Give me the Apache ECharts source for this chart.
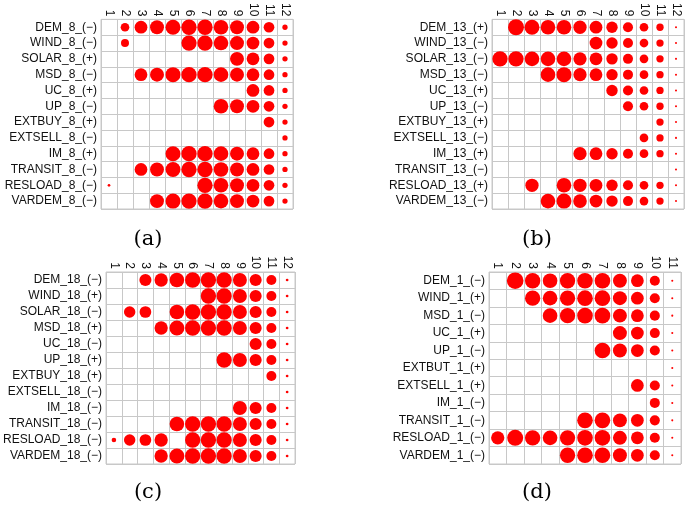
<!DOCTYPE html>
<html>
<head>
<meta charset="utf-8">
<script src="https://cdn.jsdelivr.net/npm/echarts@6/dist/echarts.min.js"></script>
<style>
html,body{margin:0;padding:0;background:#fff;}
#main{width:685px;height:506px;}
</style>
</head>
<body>
<div id="main"></div>
<script>
// column headers
var cols12 = ['1','2','3','4','5','6','7','8','9','10','11','12'];
var cols11 = ['1','2','3','4','5','6','7','8','9','10','11'];

// (a) hour 8
var rowsA = ['DEM_8_(\u2212)','WIND_8_(\u2212)','SOLAR_8_(+)','MSD_8_(\u2212)','UC_8_(+)','UP_8_(\u2212)',
  'EXTBUY_8_(+)','EXTSELL_8_(\u2212)','IM_8_(+)','TRANSIT_8_(\u2212)','RESLOAD_8_(\u2212)','VARDEM_8_(\u2212)'];
var valsA = [
  [0,.51,.75,.82,.88,.9,.9,.86,.82,.75,.63,.31],
  [0,.47,0,0,0,.9,.9,.86,.82,.75,.63,.31],
  [0,0,0,0,0,0,0,0,.82,.75,.63,.31],
  [0,0,.75,.82,.88,.9,.9,.86,.82,.75,.63,.31],
  [0,0,0,0,0,0,0,0,0,.75,.63,.31],
  [0,0,0,0,0,0,0,.86,.82,.75,.63,.31],
  [0,0,0,0,0,0,0,0,0,0,.63,.31],
  [0,0,0,0,0,0,0,0,0,0,0,.31],
  [0,0,0,0,.88,.9,.9,.86,.82,.75,.63,.31],
  [0,0,.75,.82,.88,.9,.9,.86,.82,.75,.63,.31],
  [.16,0,0,0,0,0,.9,.86,.82,.75,.63,.31],
  [0,0,0,.82,.88,.9,.9,.86,.82,.75,.63,.31]
];

// (b) hour 13
var rowsB = ['DEM_13_(+)','WIND_13_(\u2212)','SOLAR_13_(\u2212)','MSD_13_(\u2212)','UC_13_(+)','UP_13_(\u2212)',
  'EXTBUY_13_(+)','EXTSELL_13_(\u2212)','IM_13_(+)','TRANSIT_13_(\u2212)','RESLOAD_13_(+)','VARDEM_13_(\u2212)'];
var valsB = [
  [0,.94,.88,.86,.86,.78,.75,.67,.59,.51,.43,.12],
  [0,0,0,0,0,0,.75,.67,.59,.51,.43,.12],
  [.9,.9,.86,.86,.86,.78,.75,.67,.59,.51,.43,.12],
  [0,0,0,.86,.88,.78,.75,.67,.59,.51,.43,.12],
  [0,0,0,0,0,0,0,.67,.59,.51,.43,.12],
  [0,0,0,0,0,0,0,0,.59,.51,.43,.12],
  [0,0,0,0,0,0,0,0,0,0,.43,.12],
  [0,0,0,0,0,0,0,0,0,.51,.43,.12],
  [0,0,0,0,0,.78,.75,.67,.59,.51,.43,.12],
  [0,0,0,0,0,0,0,0,0,0,0,.12],
  [0,0,.78,0,.86,.78,.75,.67,.59,.51,.43,.12],
  [0,0,0,.86,.88,.8,.75,.67,.59,.51,.43,.12]
];

// (c) hour 18
var rowsC = ['DEM_18_(\u2212)','WIND_18_(+)','SOLAR_18_(\u2212)','MSD_18_(+)','UC_18_(\u2212)','UP_18_(+)',
  'EXTBUY_18_(+)','EXTSELL_18_(\u2212)','IM_18_(\u2212)','TRANSIT_18_(\u2212)','RESLOAD_18_(\u2212)','VARDEM_18_(\u2212)'];
var valsC = [
  [0,0,.71,.78,.86,.9,.9,.9,.82,.71,.59,.16],
  [0,0,0,0,0,0,.9,.9,.82,.71,.59,.16],
  [0,.67,.69,0,.86,.9,.9,.9,.82,.71,.59,.16],
  [0,0,0,.78,.88,.9,.9,.9,.82,.71,.59,.16],
  [0,0,0,0,0,0,0,0,0,.71,.59,.16],
  [0,0,0,0,0,0,0,.9,.82,.71,.59,.16],
  [0,0,0,0,0,0,0,0,0,0,.59,.16],
  [0,0,0,0,0,0,0,0,0,0,0,.16],
  [0,0,0,0,0,0,0,0,.82,.71,.59,.16],
  [0,0,0,0,.86,.9,.9,.9,.82,.71,.59,.16],
  [.27,.67,.69,.78,0,.9,.9,.9,.82,.71,.59,.16],
  [0,0,0,.78,.88,.9,.9,.9,.82,.71,.59,.16]
];

// (d) hour 1
var rowsD = ['DEM_1_(\u2212)','WIND_1_(+)','MSD_1_(\u2212)','UC_1_(+)','UP_1_(\u2212)','EXTBUT_1_(+)',
  'EXTSELL_1_(+)','IM_1_(\u2212)','TRANSIT_1_(\u2212)','RESLOAD_1_(\u2212)','VARDEM_1_(\u2212)'];
var valsD = [
  [0,.98,.9,.86,.9,.92,.92,.82,.75,.59,.12],
  [0,0,.9,.86,.9,.92,.92,.82,.75,.59,.12],
  [0,0,0,.86,.9,.92,.92,.82,.75,.59,.12],
  [0,0,0,0,0,0,0,.82,.75,.59,.12],
  [0,0,0,0,0,0,.92,.82,.75,.59,.12],
  [0,0,0,0,0,0,0,0,0,0,.12],
  [0,0,0,0,0,0,0,0,.75,.59,.12],
  [0,0,0,0,0,0,0,0,0,.59,.12],
  [0,0,0,0,0,.92,.92,.82,.75,.59,.12],
  [.78,.94,.9,.86,.9,.92,.92,.82,.75,.59,.12],
  [0,0,0,0,.9,.92,.92,.82,.75,.59,.12]
];

var panels = [
  {cols: cols12, rows: rowsA, vals: valsA, left: 101, top: 17, tag: '(a)', tx: 148, ty: 240},
  {cols: cols12, rows: rowsB, vals: valsB, left: 492, top: 17, tag: '(b)', tx: 537, ty: 240},
  {cols: cols12, rows: rowsC, vals: valsC, left: 103, top: 272, tag: '(c)', tx: 148, ty: 493},
  {cols: cols11, rows: rowsD, vals: valsD, left: 489, top: 272, tag: '(d)', tx: 537, ty: 493}
];

var gridColor = '#c8c8c8';
var txtColor = '#111';
var option = {
  animation: false,
  backgroundColor: '#fff',
  grid: [], xAxis: [], yAxis: [], series: [], graphic: []
};

panels.forEach(function(p, i){
  option.grid.push({left: p.left, top: p.top, width: 192, height: 192,
    show: true, borderColor: gridColor, borderWidth: 1});
  option.xAxis.push({type: 'category', gridIndex: i, position: 'top', data: p.cols,
    axisLine: {show: false}, axisTick: {show: false},
    axisLabel: {interval: 0, rotate: 90, margin: 3, fontSize: 12, color: txtColor, fontFamily: 'Liberation Sans'},
    splitLine: {show: true, interval: 0, lineStyle: {color: gridColor, width: 1}}});
  option.yAxis.push({type: 'category', gridIndex: i, inverse: true, data: p.rows,
    axisLine: {show: false}, axisTick: {show: false},
    axisLabel: {interval: 0, margin: 4, fontSize: 12, color: txtColor, fontFamily: 'Liberation Sans'},
    splitLine: {show: true, interval: 0, lineStyle: {color: gridColor, width: 1}}});
  var data = [];
  for(var r = 0; r < p.vals.length; r++){
    for(var c = 0; c < p.vals[r].length; c++){
      if(p.vals[r][c] > 0) data.push([c, r, p.vals[r][c]]);
    }
  }
  option.series.push({type: 'scatter', xAxisIndex: i, yAxisIndex: i, data: data,
    symbol: 'circle', symbolSize: function(v){ return v[2] * 17; },
    itemStyle: {color: '#ff0000', opacity: 1}});
  option.graphic.push({type: 'text', x: p.tx, y: p.ty,
    style: {text: p.tag, font: '21px "DejaVu Serif"', fill: '#000',
      align: 'center', verticalAlign: 'middle', textAlign: 'center', textVerticalAlign: 'middle'}});
});

var chart = echarts.init(document.getElementById('main'));
chart.setOption(option);
</script>
</body>
</html>
